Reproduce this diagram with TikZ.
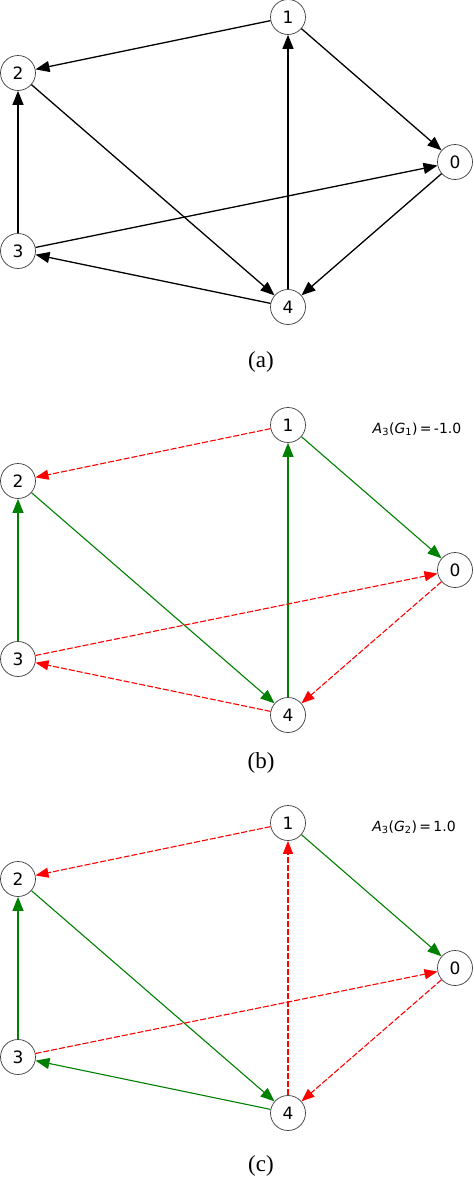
\documentclass[tikz,border=0pt]{standalone}
\usepackage{fontspec}
\setmainfont{Liberation Serif}
\newfontfamily\dejavu{DejaVu Sans}
\usetikzlibrary{arrows.meta}
\definecolor{posgreen}{RGB}{0,128,0}
\definecolor{negred}{RGB}{255,0,0}
\tikzset{
    vertex/.style={
        circle, draw=black!75, fill=white,
        minimum size=35pt, inner sep=0pt, line width=0.7pt,
        font=\dejavu\fontsize{17}{17}\selectfont,
    },
    link/.style={-{Triangle[length=14pt, width=11pt]}, line width=1.3pt, draw=black},
    keep/.style={-{Triangle[length=14pt, width=11pt]}, line width=1.1pt, draw=posgreen},
    flip/.style={-{Triangle[length=13pt, width=10pt]}, line width=1.1pt, draw=negred,
        dash pattern=on 6pt off 2pt},
    caption/.style={font=\fontsize{23}{23}\selectfont},
    score/.style={font=\dejavu\fontsize{14}{14}\selectfont},
}

\begin{document}
\begin{tikzpicture}[x=1pt, y=-1pt]
    \useasboundingbox (0,0) rectangle (474,1179);

    % (a) the graph
    \node[vertex] (a1) at (288,17)  {1};
    \node[vertex] (a2) at (18,73)   {2};
    \node[vertex] (a0) at (455,162) {0};
    \node[vertex] (a3) at (18,251)  {3};
    \node[vertex] (a4) at (288,307) {4};
    \node[caption] (capa) at (261,362) {(a)};

    \draw[link] (a1) -- (a2);
    \draw[link] (a1) -- (a0);
    \draw[link] (a2) -- (a4);
    \draw[link] (a4) -- (a1);
    \draw[link] (a3) -- (a2);
    \draw[link] (a3) -- (a0);
    \draw[link] (a0) -- (a4);
    \draw[link] (a4) -- (a3);

    % (b) first signing
    \node[vertex] (b1) at (288,425) {1};
    \node[vertex] (b2) at (18,481)  {2};
    \node[vertex] (b0) at (455,570) {0};
    \node[vertex] (b3) at (18,659)  {3};
    \node[vertex] (b4) at (288,715) {4};
    \node[score] (scoreb) at (417,429)
        {\itshape A\textsubscript{\upshape 3}\upshape(\itshape G\textsubscript{\upshape 1}\upshape)\,=\,-1.0};
    \node[caption] (capb) at (261,763) {(b)};

    \draw[flip] (b1) -- (b2);
    \draw[keep] (b1) -- (b0);
    \draw[keep] (b2) -- (b4);
    \draw[keep] (b4) -- (b1);
    \draw[keep] (b3) -- (b2);
    \draw[flip] (b3) -- (b0);
    \draw[flip] (b0) -- (b4);
    \draw[flip] (b4) -- (b3);

    % (c) second signing
    \node[vertex] (c1) at (288,823)  {1};
    \node[vertex] (c2) at (18,879)   {2};
    \node[vertex] (c0) at (455,968)  {0};
    \node[vertex] (c3) at (18,1057)  {3};
    \node[vertex] (c4) at (288,1113) {4};
    \node[score] (scorec) at (414,827)
        {\itshape A\textsubscript{\upshape 3}\upshape(\itshape G\textsubscript{\upshape 2}\upshape)\,=\,1.0};
    \node[caption] (capc) at (261,1166) {(c)};

    \draw[flip] (c1) -- (c2);
    \draw[keep] (c1) -- (c0);
    \draw[keep] (c2) -- (c4);
    \draw[flip] (c4) -- (c1);
    \draw[keep] (c3) -- (c2);
    \draw[flip] (c3) -- (c0);
    \draw[flip] (c0) -- (c4);
    \draw[keep] (c4) -- (c3);
\end{tikzpicture}
\end{document}
